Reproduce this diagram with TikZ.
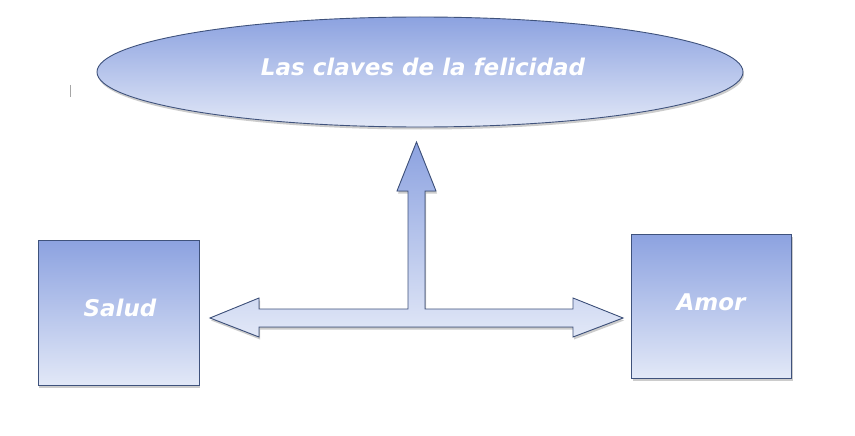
\documentclass[tikz,border=0pt]{standalone}
\usepackage{fontspec}
\setmainfont{Liberation Sans}
\newfontfamily\heavyfont{DejaVu Sans}
\usetikzlibrary{shapes.geometric,shadows}
\definecolor{topblue}{HTML}{8CA2E0}
\definecolor{botblue}{HTML}{E2E8F7}
\definecolor{edgeblue}{HTML}{3F527C}
\tikzset{
  blockfill/.style={draw=edgeblue, line width=0.9pt, top color=topblue, bottom color=botblue,
    drop shadow={shadow xshift=1pt, shadow yshift=-2.5pt, opacity=0.4, fill=gray}},
  boxnode/.style={blockfill, rectangle, inner sep=0pt, minimum width=161pt, minimum height=145pt},
  lbl/.style={text=white, font=\heavyfont\bfseries\itshape\fontsize{23}{26}\selectfont},
}
\begin{document}
\begin{tikzpicture}[x=1pt,y=-1pt]
\useasboundingbox (0,0) rectangle (855,436);
\fill[white] (0,0) rectangle (855,436);
% title ellipse
\node[blockfill, ellipse, inner sep=0pt, minimum width=646pt, minimum height=110pt] (keys) at (420,72) {};
\node[lbl] (keystext) at (423,67) {Las claves de la felicidad};
% boxes
\node[boxnode] (salud) at (118.5,312.5) {};
\node[lbl] (saludtext) at (120,308) {Salud};
\node[boxnode, minimum width=160pt, minimum height=144pt] (amor) at (711.5,306) {};
\node[lbl] (amortext) at (711,302) {Amor};
% cursor mark
\draw[gray!70, line width=0.8pt] (70,85) -- (70,97);
% block arrow
\coordinate (lt) at (210,318);
\coordinate (rt) at (623,318);
\coordinate (ut) at (416.5,142);
\filldraw[blockfill, line join=miter]
  (lt) -- (259,298) -- (259,309) -- (408,309) -- (408,191) -- (397,191) -- (ut)
  -- (436,191) -- (425,191) -- (425,309) -- (573,309) -- (573,298) -- (rt)
  -- (573,337) -- (573,327) -- (259,327) -- (259,337) -- cycle;
\end{tikzpicture}
\end{document}
